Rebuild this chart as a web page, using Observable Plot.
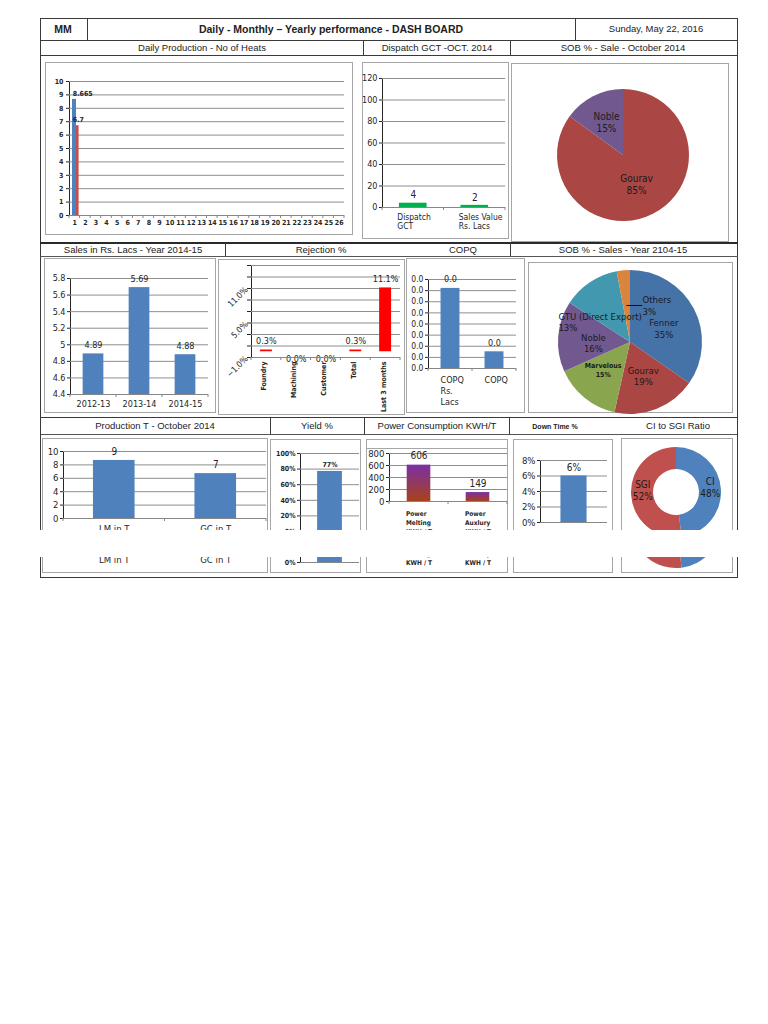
<!DOCTYPE html>
<html><head><meta charset="utf-8">
<script src="https://cdn.jsdelivr.net/npm/d3@7"></script>
<script src="https://cdn.jsdelivr.net/npm/@observablehq/plot@0.6"></script>
<style>
html,body{margin:0;padding:0;background:#fff;}
#page{position:relative;width:768px;height:1024px;overflow:hidden;font-family:"Liberation Sans",Arial,sans-serif;color:#222;}
</style></head><body><div id="page"></div>
<script>
// ---------------- DATA ----------------
const days = ["1","2","3","4","5","6","7","8","9","10","11","12","13","14","15","16","17","18","19","20","21","22","23","24","25","26"];
const dailySeries = ["LM", "GC"];
const dailyValues = [8.665, 6.7];
const dailyTicks = [0,1,2,3,4,5,6,7,8,9,10];

const dispatchCats = ["Dispatch\nGCT", "Sales Value\nRs. Lacs"];
const dispatchValues = [4, 2];
const dispatchTicks = [0,20,40,60,80,100,120];

const sobOctNames = ["Gourav", "Noble"];
const sobOctValues = [85, 15];

const salesYears = ["2012-13", "2013-14", "2014-15"];
const salesValues = [4.89, 5.69, 4.88];
const salesTicks = [4.4, 4.6, 4.8, 5, 5.2, 5.4, 5.6, 5.8];

const rejCats = ["Foundry", "Machining", "Customer", "Total", "Last 3 months"];
const rejValues = [0.003, 0, 0, 0.003, 0.111];
const rejTicks = [-0.01, 0.01, 0.03, 0.05, 0.07, 0.09, 0.11, 0.13, 0.15];
const rejTickLabels = [-0.01, 0.05, 0.11];

const copqCats = ["COPQ\nRs.\nLacs", "COPQ"];
const copqValues = [0.036, 0.0075];
const copqTicks = [0, 0.005, 0.01, 0.015, 0.02, 0.025, 0.03, 0.035, 0.04];

const sobYearNames = ["Fenner", "Gourav", "Marvelous", "Noble", "GTU (Direct Export)", "Others"];
const sobYearValues = [35, 19, 15, 16, 13, 3];

const prodCats = ["LM in T", "GC in T"];
const prodValues = [8.665, 6.7];
const prodTicks = [0, 2, 4, 6, 8, 10];

const yieldCats = ["Yield"];
const yieldValues = [0.77];
const yieldTicks = [0, 0.2, 0.4, 0.6, 0.8, 1];

const powerCats = ["Power\nMelting\nKWH / T", "Power\nAuxlury\nKWH / T"];
const powerValues = [606, 149];
const powerTicks = [0, 200, 400, 600, 800];

const downCats = ["Down Time"];
const downValues = [0.06];
const downTicks = [0, 0.02, 0.04, 0.06, 0.08];

const ratioNames = ["CI", "SGI"];
const ratioValues = [48, 52];

// ---------------- STYLE ----------------
const BLUE = "#4f81bd", RED = "#c0504d", GREEN = "#00b050", BRED = "#ff0000";
const GRID = "#8e8e8e", AXIS = "#868686";
const CH = '"DejaVu Sans Condensed","DejaVu Sans",sans-serif';
const NAR = '"Liberation Sans Narrow","DejaVu Sans Condensed","Liberation Sans",sans-serif';
const PIE_COLORS = {"Fenner":"#4572a7","Gourav":"#aa4643","Marvelous":"#89a54e","Noble":"#71588f","GTU (Direct Export)":"#4198af","Others":"#db843d","CI":"#4f81bd","SGI":"#c0504d"};

const zip = (keys, vals, k = "cat") => keys.map((c, i) => ({[k]: c, value: vals[i]}));

// ---------------- HELPERS ----------------
const page = document.getElementById("page");
function div(p, css, text) {
  const e = document.createElement("div");
  e.style.cssText = "position:absolute;" + css;
  if (text != null) e.textContent = text;
  p.appendChild(e); return e;
}
const hl = (p, x1, x2, y, c = "#3a3a3a", w = 1) => div(p, `left:${x1}px;top:${y}px;width:${x2 - x1}px;height:${w}px;background:${c}`);
const vl = (p, x, y1, y2, c = "#3a3a3a", w = 1) => div(p, `left:${x}px;top:${y1}px;width:${w}px;height:${y2 - y1}px;background:${c}`);
const box = (p, x1, y1, x2, y2) => div(p, `left:${x1}px;top:${y1}px;width:${x2 - x1}px;height:${y2 - y1}px;border:1px solid #a6a6a6;box-sizing:border-box`);
const lab = (p, cx, cy, text, css = "") => div(p, `left:${cx}px;top:${cy}px;transform:translate(-50%,-50%);white-space:nowrap;font-size:9.5px;line-height:1;${css}`, text);
function put(p, svg, x, y) { svg.style.position = "absolute"; svg.style.left = x + "px"; svg.style.top = y + "px"; p.appendChild(svg); return svg; }

function chart(o) {
  const style = Object.assign({fontFamily: CH, fontSize: "9px", color: "#262626", background: "transparent", overflow: "visible"}, o.style || {});
  return Plot.plot({...o, style});
}
// Excel-like category tick marks on the x axis (band boundaries)
function catTicks(svg, len = 3) {
  const sx = svg.scale("x"), sy = svg.scale("y");
  const [a, b] = sx.range, n = sx.domain.length;
  const y0 = Math.max(...sy.range);
  const g = d3.select(svg).append("g").attr("stroke", AXIS);
  for (let i = 0; i <= n; i++) {
    const x = a + (b - a) * i / n;
    g.append("line").attr("x1", x).attr("x2", x).attr("y1", y0).attr("y2", y0 + len);
  }
  return svg;
}
function pieArcs(table) { return d3.pie().sort(null).value(d => d.value)(table); }
function pieMark(table, inner) {
  return (index, scales) => {
    const cx = scales.x(0), cy = scales.y(0), r = scales.x(1) - scales.x(0);
    const arc = d3.arc().innerRadius(r * inner).outerRadius(r);
    const g = d3.create("svg:g").attr("transform", `translate(${cx},${cy})`);
    g.selectAll("path").data(pieArcs(table)).join("path").attr("d", arc).attr("fill", d => PIE_COLORS[d.data.name]);
    return g.node();
  };
}
function pieChart({table, width, height, cx, cy, r, inner = 0, k, nudges = {}, fontSize = 10, extra = () => []}) {
  const labels = pieArcs(table).map(a => {
    const m = (a.startAngle + a.endAngle) / 2;
    return {name: a.data.name, value: a.data.value, x: k * Math.sin(m), y: k * Math.cos(m)};
  });
  return chart({
    width, height, margin: 0,
    x: {domain: [-1, 1], range: [cx - r, cx + r], axis: null},
    y: {domain: [-1, 1], range: [cy + r, cy - r], axis: null},
    marks: [
      pieMark(table, inner),
      ...labels.map(l => Plot.text([l], {x: "x", y: "y", text: d => `${d.name}\n${d.value}%`, fill: "#1b1b1b", fontSize, lineHeight: 1.2, ...(nudges[l.name] || {})})),
      ...extra(labels)
    ]
  });
}

// ---------------- FRAME & HEADERS ----------------
hl(page, 40, 738, 18); hl(page, 40, 738, 577); vl(page, 40, 18, 578); vl(page, 737, 18, 578);
hl(page, 40, 738, 40); vl(page, 87, 18, 40); vl(page, 575, 18, 40);
lab(page, 63, 29, "MM", "font-weight:bold;font-size:10.5px");
lab(page, 331, 29, "Daily - Monthly – Yearly performance - DASH BOARD", "font-weight:bold;font-size:10.5px");
lab(page, 656, 29, "Sunday, May 22, 2016", "font-size:9.5px");
hl(page, 40, 738, 55); vl(page, 363, 40, 55); vl(page, 510, 40, 55);
lab(page, 202, 48, "Daily Production - No of Heats");
lab(page, 437, 48, "Dispatch GCT -OCT. 2014");
lab(page, 623, 48, "SOB % - Sale - October 2014");
hl(page, 40, 738, 242, "#2a2a2a", 2); hl(page, 40, 738, 256, "#555"); vl(page, 225, 243, 256); vl(page, 510, 243, 256);
lab(page, 133, 249.5, "Sales in Rs. Lacs - Year 2014-15");
lab(page, 321, 249.5, "Rejection %");
lab(page, 463, 249.5, "COPQ");
lab(page, 623, 249.5, "SOB % - Sales - Year 2104-15");
hl(page, 40, 738, 417); hl(page, 40, 738, 434, "#555"); vl(page, 270, 417, 434); vl(page, 364, 417, 434); vl(page, 509, 417, 434);
lab(page, 155, 426, "Production T - October 2014");
lab(page, 317, 426, "Yield %");
lab(page, 437, 426, "Power Consumption KWH/T");
lab(page, 555, 426, "Down Time %", "font-weight:bold;font-size:7px");
lab(page, 678, 426, "CI to SGI Ratio");

// ---------------- ROW 2 ----------------
box(page, 45, 62, 353, 235);
const daily = dailySeries.map((s, i) => ({day: days[0], series: s, value: dailyValues[i]}));
put(page, catTicks(chart({
  width: 308, height: 173, marginLeft: 24, marginRight: 9, marginTop: 19, marginBottom: 20,
  style: {fontFamily: NAR, fontSize: "7px", fontWeight: "bold"},
  x: {domain: days, padding: 0, round: false, tickSize: 0, tickPadding: 5, label: null},
  y: {domain: [0, 10], ticks: dailyTicks, tickSize: 3, tickPadding: 3, line: true, label: null},
  marks: [
    Plot.ruleY(dailyTicks.slice(1), {stroke: GRID}),
    Plot.barY(daily.filter(d => d.series === "LM"), {x: "day", y: "value", fill: BLUE, insetLeft: 3, insetRight: 3.6}),
    Plot.barY(daily.filter(d => d.series === "GC"), {x: "day", y: "value", fill: RED, insetLeft: 7, insetRight: 1}),
    Plot.text(daily, {x: "day", y: "value", text: d => String(d.value), textAnchor: "start", dx: -2, dy: -6}),
    Plot.ruleY([0], {stroke: AXIS})
  ]
})), 45, 62);

box(page, 362, 62, 509, 239);
const dispatch = zip(dispatchCats, dispatchValues);
put(page, catTicks(chart({
  width: 147, height: 177, marginLeft: 20, marginRight: 4, marginTop: 16, marginBottom: 32,
  style: {fontSize: "9px"},
  x: {domain: dispatchCats, paddingInner: 0.55, paddingOuter: 0.275, round: false, axis: null},
  y: {domain: [0, 120], ticks: dispatchTicks, tickSize: 3, tickPadding: 2, line: true, label: null},
  marks: [
    Plot.ruleY(dispatchTicks.slice(1), {stroke: GRID}),
    Plot.barY(dispatch, {x: "cat", y: "value", fill: GREEN}),
    Plot.text(dispatch, {x: "cat", y: "value", text: d => String(d.value), dy: -8, fontSize: 10}),
    Plot.text(dispatch, {x: "cat", text: "cat", frameAnchor: "bottom", lineAnchor: "top", textAnchor: "start", dx: -16, dy: 6, fontFamily: NAR, fontSize: 8.5, lineHeight: 1.1}),
    Plot.ruleY([0], {stroke: AXIS})
  ]
})), 362, 62);

box(page, 511, 63, 729, 242);
put(page, pieChart({table: zip(sobOctNames, sobOctValues, "name"), width: 218, height: 179, cx: 112, cy: 92, r: 66, k: 0.57, fontSize: 10,
  nudges: {"Gourav": {dx: -4, dy: -5}}}), 511, 63);

// ---------------- ROW 3 ----------------
box(page, 44, 258, 216, 413);
const sales = zip(salesYears, salesValues);
put(page, catTicks(chart({
  width: 172, height: 155, marginLeft: 26, marginRight: 8, marginTop: 20, marginBottom: 19,
  style: {fontSize: "9px"},
  x: {domain: salesYears, paddingInner: 0.55, paddingOuter: 0.275, round: false, tickSize: 0, tickPadding: 6, label: null},
  y: {domain: [salesTicks[0], salesTicks[salesTicks.length - 1]], ticks: salesTicks, tickFormat: d => String(d), tickSize: 3, tickPadding: 2, line: true, label: null},
  marks: [
    Plot.ruleY(salesTicks.slice(1), {stroke: GRID}),
    Plot.barY(sales, {x: "cat", y1: salesTicks[0], y2: "value", fill: BLUE}),
    Plot.text(sales, {x: "cat", y: "value", text: d => d.value.toFixed(2), dy: -9}),
    Plot.ruleY([salesTicks[0]], {stroke: AXIS})
  ]
})), 44, 258);

box(page, 218, 259, 405, 415);
const rej = zip(rejCats, rejValues);
put(page, catTicks(chart({
  width: 187, height: 156, marginLeft: 33, marginRight: 5, marginTop: 6, marginBottom: 58,
  style: {fontSize: "8.5px"},
  x: {domain: rejCats, paddingInner: 0.6, paddingOuter: 0.3, round: false, axis: null},
  y: {domain: [rejTicks[0], rejTicks[rejTicks.length - 1]], ticks: rejTicks, tickFormat: d => rejTickLabels.includes(d) ? d3.format(".1%")(d) : "", tickRotate: -45, tickSize: 4, tickPadding: 1, line: true, label: null},
  marks: [
    Plot.ruleY(rejTicks.slice(1), {stroke: GRID}),
    Plot.barY(rej, {x: "cat", y: "value", fill: BRED}),
    Plot.text(rej.filter(d => d.value > 0), {x: "cat", y: "value", text: d => d3.format(".1%")(d.value), dy: -9, fontSize: 9}),
    Plot.text(rej.filter(d => d.value === 0), {x: "cat", y: "value", text: d => d3.format(".1%")(d.value), dy: 7, fontSize: 9}),
    Plot.text(rej, {x: "cat", text: "cat", frameAnchor: "bottom", rotate: -90, textAnchor: "end", dy: 4, fontWeight: "bold", fontSize: 7}),
    Plot.ruleY([rejTicks[0]], {stroke: AXIS})
  ]
})), 218, 259);

box(page, 406, 258, 525, 413);
const copq = zip(copqCats, copqValues);
put(page, catTicks(chart({
  width: 119, height: 155, marginLeft: 22, marginRight: 9, marginTop: 21, marginBottom: 45,
  style: {fontSize: "8.5px"},
  x: {domain: copqCats, paddingInner: 0.57, paddingOuter: 0.285, round: false, axis: null},
  y: {domain: [0, 0.04], ticks: copqTicks, tickFormat: d3.format(".1f"), tickSize: 3, tickPadding: 2, line: true, label: null},
  marks: [
    Plot.ruleY(copqTicks.slice(1), {stroke: GRID}),
    Plot.barY(copq, {x: "cat", y: "value", fill: BLUE}),
    Plot.text(copq, {x: "cat", y: "value", text: d => d3.format(".1f")(d.value), dy: -9, fontSize: 9}),
    Plot.text(copq, {x: "cat", text: "cat", frameAnchor: "bottom", lineAnchor: "top", textAnchor: "start", dx: -10, dy: 6, fontSize: 9, lineHeight: 1.25}),
    Plot.ruleY([0], {stroke: AXIS})
  ]
})), 406, 258);

box(page, 528, 262, 733, 413);
put(page, pieChart({
  table: zip(sobYearNames, sobYearValues, "name"), width: 205, height: 151, cx: 102, cy: 80, r: 72, k: 0.6, fontSize: 9.5,
  nudges: {
    "Fenner": {dx: -5, dy: 6},
    "Gourav": {dx: -3, dy: -7},
    "Noble": {dx: 6, dy: 4},
    "GTU (Direct Export)": {textAnchor: "start", dx: -48, dy: 15},
    "Others": {textAnchor: "start", dx: 16, dy: 6},
    "Marvelous": {fontSize: 7, fontWeight: "bold", dy: -6}
  },
  extra: labels => [Plot.link(labels.filter(l => l.name === "Others"), {x1: "x", y1: "y", x2: d => d.x + 0.22, y2: "y", dy: 6, stroke: "#111"})]
}), 528, 262);

// ---------------- ROW 4 (drawn twice, as in the reference's torn rendering) ----------------
function buildRow4(p) {
  const o = 434;
  box(p, 42, 438 - o, 268, 542 - o);
  box(p, 270, 439 - o, 361, 542 - o);
  box(p, 366, 439 - o, 508, 542 - o);
  box(p, 513, 439 - o, 613, 542 - o);
  box(p, 621, 438 - o, 733, 542 - o);

  const prod = zip(prodCats, prodValues);
  put(p, catTicks(chart({
    width: 226, height: 104, marginLeft: 21, marginRight: 2, marginTop: 13, marginBottom: 24,
    style: {fontSize: "9.5px"},
    x: {domain: prodCats, paddingInner: 0.59, paddingOuter: 0.295, round: false, tickSize: 0, tickPadding: 7, label: null},
    y: {domain: [0, 10], ticks: prodTicks, tickSize: 3, tickPadding: 2, line: true, label: null},
    marks: [
      Plot.ruleY(prodTicks.slice(1), {stroke: GRID}),
      Plot.barY(prod, {x: "cat", y: "value", fill: BLUE}),
      Plot.text(prod, {x: "cat", y: "value", text: d => d3.format(".0f")(d.value), dy: -9, fontSize: 10}),
      Plot.ruleY([0], {stroke: AXIS})
    ]
  })), 42, 438 - o);

  const yl = zip(yieldCats, yieldValues);
  put(p, chart({
    width: 91, height: 103, marginLeft: 30, marginRight: 2, marginTop: 14, marginBottom: 11,
    style: {fontSize: "7px", fontWeight: "bold"},
    x: {domain: yieldCats, paddingInner: 0.58, paddingOuter: 0.29, round: false, axis: null},
    y: {domain: [0, 1], ticks: yieldTicks, tickFormat: d3.format(".0%"), tickSize: 3, tickPadding: 2, line: true, label: null},
    marks: [
      Plot.ruleY(yieldTicks.slice(1), {stroke: GRID}),
      Plot.barY(yl, {x: "cat", y: "value", fill: BLUE}),
      Plot.text(yl, {x: "cat", y: "value", text: d => d3.format(".0%")(d.value), dy: -7}),
      Plot.ruleY([0], {stroke: AXIS})
    ]
  }), 270, 439 - o);

  hl(p, 366, 508, 448 - o, "#a6a6a6");
  const pw = zip(powerCats, powerValues);
  put(p, catTicks(chart({
    width: 142, height: 94, marginLeft: 23, marginRight: 1, marginTop: 5, marginBottom: 41,
    style: {fontSize: "9.5px"},
    x: {domain: powerCats, paddingInner: 0.6, paddingOuter: 0.3, round: false, axis: null},
    y: {domain: [0, 800], ticks: powerTicks, tickSize: 3, tickPadding: 2, line: true, label: null},
    marks: [
      () => {
        const defs = d3.create("svg:defs");
        const gr = defs.append("linearGradient").attr("id", "powGrad").attr("x1", 0).attr("y1", 0).attr("x2", 0).attr("y2", 1);
        gr.append("stop").attr("offset", "0%").attr("stop-color", "#7a2fa6");
        gr.append("stop").attr("offset", "100%").attr("stop-color", "#a8421a");
        return defs.node();
      },
      Plot.ruleY(powerTicks.slice(1), {stroke: GRID}),
      Plot.barY(pw, {x: "cat", y: "value", fill: "url(#powGrad)"}),
      Plot.text(pw, {x: "cat", y: "value", text: d => String(d.value), dy: -9, fontSize: 10}),
      Plot.text(pw, {x: "cat", text: "cat", frameAnchor: "bottom", lineAnchor: "top", textAnchor: "start", dx: -13, dy: 8, fontSize: 6.5, fontWeight: "bold", lineHeight: 1.4}),
      Plot.ruleY([0], {stroke: AXIS})
    ]
  })), 366, 448 - o);

  const dn = zip(downCats, downValues);
  put(p, chart({
    width: 100, height: 103, marginLeft: 27, marginRight: 6, marginTop: 21, marginBottom: 20,
    style: {fontSize: "9.5px"},
    x: {domain: downCats, paddingInner: 0.61, paddingOuter: 0.305, round: false, axis: null},
    y: {domain: [0, 0.08], ticks: downTicks, tickFormat: d3.format(".0%"), tickSize: 3, tickPadding: 2, line: true, label: null},
    marks: [
      Plot.ruleY(downTicks.slice(1), {stroke: GRID}),
      Plot.barY(dn, {x: "cat", y: "value", fill: BLUE}),
      Plot.text(dn, {x: "cat", y: "value", text: d => d3.format(".0%")(d.value), dy: -8, fontSize: 10}),
      Plot.ruleY([0], {stroke: AXIS})
    ]
  }), 513, 439 - o);

  put(p, pieChart({table: zip(ratioNames, ratioValues, "name"), width: 112, height: 104, cx: 55, cy: 54, r: 45, inner: 0.51, k: 0.75, fontSize: 10,
    nudges: {"CI": {dy: -3}, "SGI": {dy: -4}}}), 621, 438 - o);
}
const topClip = div(page, "left:0;top:434px;width:768px;height:96px;overflow:hidden");
buildRow4(div(topClip, "left:0;top:0;width:768px;height:200px"));
const botClip = div(page, "left:0;top:557px;width:768px;height:21px;overflow:hidden");
buildRow4(div(botClip, "left:0;top:-92px;width:768px;height:200px"));
// frame lines crossing row 4
vl(page, 40, 434, 578); vl(page, 737, 434, 578); hl(page, 40, 738, 577);
// the white tear across the bottom row of the reference
div(page, "left:0;top:530px;width:768px;height:27px;background:#fff;z-index:5");
</script></body></html>
